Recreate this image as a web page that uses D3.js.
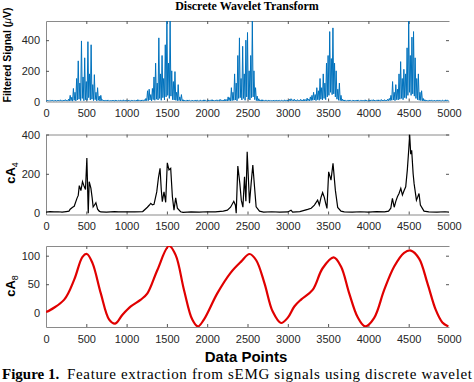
<!DOCTYPE html>
<meta charset="utf-8">
<style>
  body { margin: 0; background: #fff; }
  .tick text { font-family: "Liberation Sans", Arial, sans-serif; font-size: 11px; fill: #262626; }
  .tick line { stroke: #555; }
  .domain { stroke: #8a8a8a; }
</style>
<script src="https://d3js.org/d3.v7.min.js"></script>
<div id="chart"></div>
<script>
// filtered EMG, one value every 10 data points (0..5000)
var filtered = [
  6,2,9,3,7,1,8,4,10,2,6,3,9,1,7,4,8,2,11,3,
  7,2,9,3,12,4,8,2,15,3,40,5,28,2,85,8,60,4,150,10,
  265,15,120,6,395,20,160,5,285,12,130,8,390,25,180,10,370,15,110,6,
  175,12,60,4,90,8,35,3,40,6,12,3,9,2,7,4,10,2,8,3,
  6,2,9,4,7,1,10,3,8,2,7,4,9,2,6,3,11,2,8,4,
  7,2,9,3,6,1,10,4,8,2,7,3,9,2,12,4,7,2,10,3,
  8,3,12,4,20,5,70,6,80,10,45,4,85,12,160,8,250,15,120,10,
  415,20,180,8,300,25,150,10,370,30,525,40,250,20,525,35,200,12,130,10,
  195,8,60,5,110,6,30,3,45,4,12,2,9,3,7,2,10,4,8,2,
  7,3,9,2,6,4,10,1,8,3,7,2,9,4,6,2,11,3,8,2,
  7,3,10,2,8,4,12,3,9,2,8,4,11,3,7,2,14,4,9,3,
  10,3,15,4,12,3,30,5,25,4,90,6,60,8,180,10,120,5,300,20,
  415,25,150,10,360,20,180,8,400,30,450,15,200,10,300,25,525,30,200,12,
  90,6,35,3,18,4,10,2,12,3,8,2,9,4,7,2,10,3,8,2,
  6,3,9,2,7,4,10,2,8,3,7,2,9,4,6,2,11,3,8,2,
  9,3,14,4,18,5,10,3,15,4,9,2,12,4,8,3,14,4,10,3,
  15,4,12,3,22,5,15,4,30,6,40,8,60,10,45,6,90,12,70,8,
  150,15,90,10,180,20,120,12,250,30,300,40,456,60,280,45,480,50,250,30,
  200,15,80,8,120,6,40,4,15,3,10,2,8,3,7,2,10,4,8,2,
  7,3,9,2,6,4,10,2,8,3,7,2,9,4,6,2,11,3,8,2,
  7,2,10,3,8,4,12,3,9,2,8,4,11,3,7,2,13,4,9,3,
  12,3,9,4,15,5,20,6,40,8,130,10,60,6,110,12,80,10,180,15,
  260,20,150,12,210,25,180,20,350,40,525,60,300,40,420,50,456,35,285,20,
  150,12,180,8,60,6,70,5,20,3,12,2,9,3,7,2,10,4,8,2,
  7,3,9,2,6,4,10,2,8,3,7,2,9,4,6,2,11,3,8,2,
  6
];

// cA4 approximation coefficients
var ca4X = [0,50,100,150,200,250,285,300,330,350,384,400,413,433,453,474,490,507,515,524,536,557,572,585,600,619,640,660,680,750,850,900,1000,1100,1200,
  1258,1280,1300,1320,1340,1374,1395,1415,1430,1443,1464,1485,1505,1526,1547,1568,1588,1609,1630,1670,1700,1800,1900,2000,2100,2200,
  2250,2290,2330,2350,2360,2380,2405,2423,2443,2463,2480,2496,2525,2545,2566,2587,2607,2649,2700,2800,2900,3000,3040,3060,3150,
  3247,3290,3330,3370,3391,3412,3432,3453,3470,3486,3507,3536,3561,3590,3619,3660,3700,3800,3900,4000,4100,4200,
  4250,4278,4298,4320,4340,4360,4380,4402,4422,4443,4463,4483,4500,4512,4525,4537,4555,4567,4596,4610,4628,4645,4690,4750,4850,4950,5000];
var ca4Y = [5,8,6,7,5,8,10,20,30,35,75,90,140,115,160,135,120,280,150,0,160,127,80,32,40,53,20,10,6,5,8,6,7,6,8,
  30,40,50,42,45,108,180,228,120,58,108,55,256,220,228,83,15,78,25,7,4,6,5,7,6,10,
  15,30,60,40,0,240,150,66,30,185,60,312,50,150,245,134,32,10,5,7,5,6,15,5,8,
  19,25,41,66,41,80,104,80,50,24,210,168,253,117,29,10,6,5,7,5,8,6,
  10,25,75,30,60,83,100,126,92,115,134,220,320,400,300,320,200,150,66,80,100,41,10,6,5,7,5];

// cA8 approximation coefficients
var ca8X = [0,12,226,350,453,507,577,680,784,858,949,1052,1176,1258,1382,1526,1609,1712,1815,1885,1959,2125,2290,2423,2525,2608,2710,2813,2916,2998,
  3081,3164,3308,3432,3569,3660,3762,3866,3960,4072,4196,4320,4443,4526,4629,4732,4836,4918,4992];
var ca8Y = [2,2,23,58,98,103,87,34,-12,-19,-3.5,11,23,34,75,117,101,40,-12,-24,-12,34,70,90,103,92,52,2,-18,-9,
  11,23,40,78,97,81,34,-7.5,-24,-9,40,81,105,109,95,52,5,-17,-24];

var xTicks = d3.range(0, 5001, 500);
var yTicksTop = [0, 200, 400], yTicksMid = [0, 200, 400], yTicksBot = [0, 50, 100];

var svg = d3.select("#chart").append("svg")
  .attr("width", 474).attr("height", 382);

var x = d3.scaleLinear().domain([0, 5000]).range([46, 449]);
var left = 46, right = 449;
var fmt = d3.format("d");

function panel(y, yTicks, top, bottom, id) {
  var g = svg.append("g");
  g.append("clipPath").attr("id", id)
    .append("rect").attr("x", left).attr("y", top).attr("width", right - left).attr("height", bottom - top);

  // bottom axis
  g.append("g").attr("transform", "translate(0," + bottom + ")")
    .call(d3.axisBottom(x).tickValues(xTicks).tickFormat(fmt).tickSizeInner(-3).tickSizeOuter(0).tickPadding(7.7));
  // top ticks
  var t = g.append("g").attr("transform", "translate(0," + top + ")")
    .call(d3.axisTop(x).tickValues(xTicks).tickSizeInner(-3).tickSizeOuter(0).tickFormat(""));
  t.select(".domain").attr("stroke", "#9a9a9a");
  // left axis
  g.append("g").attr("transform", "translate(" + left + ",0)")
    .call(d3.axisLeft(y).tickValues(yTicks).tickFormat(fmt).tickSizeInner(-3).tickSizeOuter(0).tickPadding(6));
  // right ticks
  var r = g.append("g").attr("transform", "translate(" + right + ",0)")
    .call(d3.axisRight(y).tickValues(yTicks).tickSizeInner(-3).tickSizeOuter(0).tickFormat(""));
  r.select(".domain").remove();
  g.selectAll(".tick line").filter(function(d) { return d === 0 || d === 5000; }).remove();
  return g;
}

// top: filtered signal
var y1 = d3.scaleLinear().domain([0, 525]).range([101.5, 21]);
var g1 = panel(y1, yTicksTop, 21, 101.5, "c1");
g1.append("path")
  .datum(filtered)
  .attr("clip-path", "url(#c1)")
  .attr("fill", "none")
  .attr("stroke", "#0072bd")
  .attr("stroke-width", 1)
  .attr("d", d3.line().x(function(d, i) { return x(i * 10); }).y(function(d) { return y1(d); }));

// middle: cA4
var y2 = d3.scaleLinear().domain([-7, 400]).range([214.5, 134.5]);
var g2 = panel(y2, yTicksMid, 134.5, 214.5, "c2");
g2.append("path")
  .datum(d3.range(ca4X.length))
  .attr("clip-path", "url(#c2)")
  .attr("fill", "none")
  .attr("stroke", "#000")
  .attr("stroke-width", 1.2)
  .attr("d", d3.line().x(function(i) { return x(ca4X[i]); }).y(function(i) { return y2(ca4Y[i]); }));

// bottom: cA8
var y3 = d3.scaleLinear().domain([-25, 117]).range([327, 246]);
var g3 = panel(y3, yTicksBot, 246, 327, "c3");
g3.append("path")
  .datum(d3.range(ca8X.length))
  .attr("clip-path", "url(#c3)")
  .attr("fill", "none")
  .attr("stroke", "#e00000")
  .attr("stroke-width", 2.2)
  .attr("d", d3.line().curve(d3.curveCatmullRom.alpha(0.5))
    .x(function(i) { return x(ca8X[i]); }).y(function(i) { return y3(ca8Y[i]); }));

// titles and labels
svg.append("text")
  .attr("x", 247).attr("y", 10)
  .attr("text-anchor", "middle")
  .style("font-family", '"Liberation Serif", "Times New Roman", serif')
  .style("font-weight", "bold").style("font-size", "12px")
  .text("Discrete Wavelet Transform");

var yl = svg.append("text")
  .attr("transform", "translate(11,55) rotate(-90)")
  .attr("text-anchor", "middle")
  .style("font-family", '"Liberation Sans", Arial, sans-serif')
  .style("font-weight", "bold").style("font-size", "10.5px");
yl.append("tspan").text("Filtered Signal (");
yl.append("tspan").style("font-style", "italic").style("font-weight", "normal").text("\u03bc");
yl.append("tspan").text("V)");

function caLabel(cy, sub) {
  var t = svg.append("text")
    .attr("transform", "translate(15," + cy + ") rotate(-90)")
    .attr("text-anchor", "middle")
    .style("font-family", '"Liberation Sans", Arial, sans-serif')
    .style("font-weight", "bold").style("font-size", "13px");
  t.append("tspan").text("cA");
  t.append("tspan").attr("dy", 3).style("font-size", "9px").style("font-weight", "normal").text(sub);
}
caLabel(173, "4");
caLabel(286, "8");

svg.append("text")
  .attr("x", 246).attr("y", 362)
  .attr("text-anchor", "middle")
  .style("font-family", '"Liberation Sans", Arial, sans-serif')
  .style("font-weight", "bold").style("font-size", "15px")
  .text("Data Points");

var cap = svg.append("text")
  .attr("y", 379)
  .style("font-family", '"Liberation Serif", "Times New Roman", serif')
  .style("font-size", "15px");
cap.append("tspan").attr("x", 2).style("font-weight", "bold").text("Figure 1.");
cap.append("tspan").attr("x", 67).attr("textLength", 405).attr("lengthAdjust", "spacing")
  .text("Feature extraction from sEMG signals using discrete wavelet");
</script>
